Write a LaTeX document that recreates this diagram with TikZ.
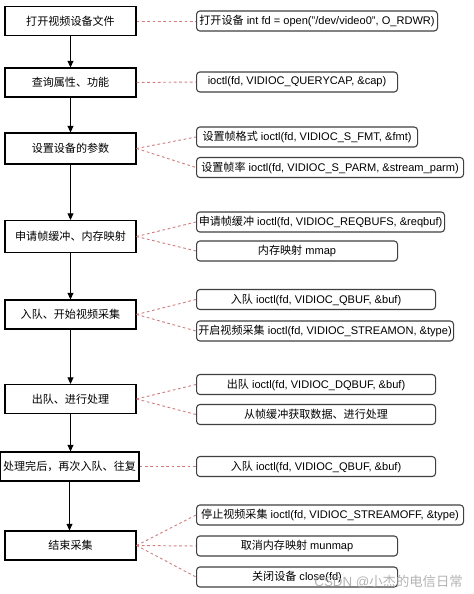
\documentclass[tikz,border=0pt]{standalone}
\usepackage{fontspec}
\setmainfont{Liberation Sans}
\newfontfamily\cjk{Noto Sans CJK SC}
\usetikzlibrary{arrows.meta}
\newcommand\zh[1]{{\cjk #1}}
\definecolor{dashred}{HTML}{D08080}
\definecolor{rborder}{HTML}{404040}
\begin{document}
\begin{tikzpicture}[x=0.75pt,y=-0.75pt,
  lbox/.style={draw=black,line width=0.8pt,minimum width=131*0.75pt,minimum height=29*0.75pt,inner sep=1pt,font=\fontsize{8.3}{10}\selectfont},
  rbox/.style={draw=rborder,line width=0.8pt,rounded corners=2.5pt,minimum height=20*0.75pt,inner sep=1pt,anchor=west,font=\fontsize{8.3}{10}\selectfont},
  flow/.style={draw=black,line width=0.8pt,-{Triangle[length=5pt,width=4.5pt]}},
  link/.style={draw=dashred,line width=0.7pt,dash pattern=on 2pt off 2pt}]
\useasboundingbox[fill=white] (0,0) rectangle (474,594);

% left column
\node[lbox] (l1) at (70.5,21) {\zh{打开视频设备文件}};
\node[lbox] (l2) at (70.5,82.5) {\zh{查询属性、功能}};
\node[lbox,minimum height=31*0.75pt] (l3) at (70.5,148.5) {\zh{设置设备的参数}};
\node[lbox,minimum height=32*0.75pt] (l4) at (70.5,236.5) {\zh{申请帧缓冲、内存映射}};
\node[lbox] (l5) at (70.5,314.5) {\zh{入队、开始视频采集}};
\node[lbox] (l6) at (70.5,399) {\zh{出队、进行处理}};
\node[lbox,minimum width=139*0.75pt] (l7) at (69.5,466.5) {\zh{处理完后，再次入队、往复}};
\node[lbox] (l8) at (70.5,545.5) {\zh{结束采集}};

\foreach \a/\b in {l1/l2,l2/l3,l3/l4,l4/l5,l5/l6,l6/l7,l7/l8}
  \draw[flow] (\a.south) -- (\a.south |- \b.north);

% right column
\node[rbox,minimum width=241*0.75pt] (r1) at (196,21) {\zh{打开设备} int fd = open("/dev/video0", O\_RDWR)};
\node[rbox,minimum width=201*0.75pt] (r2) at (196,82) {ioctl(fd, VIDIOC\_QUERYCAP, \&cap)};
\node[rbox,minimum width=221*0.75pt] (r3a) at (196,137) {\zh{设置帧格式} ioctl(fd, VIDIOC\_S\_FMT, \&fmt)};
\node[rbox,minimum width=267*0.75pt] (r3b) at (196,167.5) {\zh{设置帧率} ioctl(fd, VIDIOC\_S\_PARM, \&stream\_parm)};
\node[rbox,minimum width=248*0.75pt] (r4a) at (196,222) {\zh{申请帧缓冲} ioctl(fd, VIDIOC\_REQBUFS, \&reqbuf)};
\node[rbox,minimum width=201*0.75pt] (r4b) at (196,251) {\zh{内存映射} mmap};
\node[rbox,minimum width=239*0.75pt] (r5a) at (196,299.5) {\zh{入队} ioctl(fd, VIDIOC\_QBUF, \&buf)};
\node[rbox,minimum width=257*0.75pt] (r5b) at (196,331) {\zh{开启视频采集} ioctl(fd, VIDIOC\_STREAMON, \&type)};
\node[rbox,minimum width=239*0.75pt] (r6a) at (196,384.5) {\zh{出队} ioctl(fd, VIDIOC\_DQBUF, \&buf)};
\node[rbox,minimum width=239*0.75pt] (r6b) at (196,414.5) {\zh{从帧缓冲获取数据、进行处理}};
\node[rbox,minimum width=239*0.75pt] (r7) at (196,466.5) {\zh{入队} ioctl(fd, VIDIOC\_QBUF, \&buf)};
\node[rbox,minimum width=267*0.75pt] (r8a) at (196,515) {\zh{停止视频采集} ioctl(fd, VIDIOC\_STREAMOFF, \&type)};
\node[rbox,minimum width=201*0.75pt] (r8b) at (196,546) {\zh{取消内存映射} munmap};
\node[rbox,minimum width=201*0.75pt] (r8c) at (196,577) {\zh{关闭设备} close(fd)};

\foreach \a/\b in {l1/r1,l2/r2,l3/r3a,l3/r3b,l4/r4a,l4/r4b,l5/r5a,l5/r5b,l6/r6a,l6/r6b,l7/r7,l8/r8a,l8/r8b,l8/r8c}
  \draw[link] (\a.east) -- (\b.west);

% watermark
\node[anchor=east,text=gray!70,opacity=0.85,inner sep=0pt,font=\fontsize{10}{12}\selectfont] (wm) at (463,582) {CSDN @\zh{小杰的电信日常}};
\end{tikzpicture}
\end{document}
